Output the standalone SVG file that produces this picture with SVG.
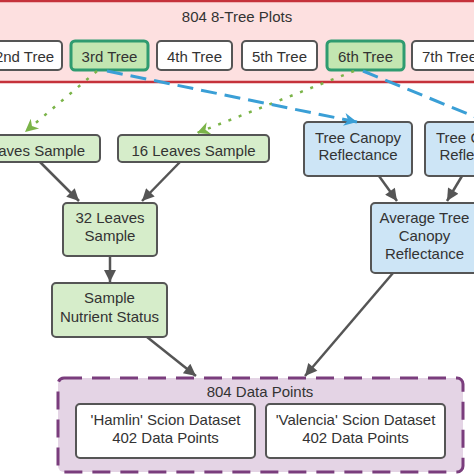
<svg xmlns="http://www.w3.org/2000/svg" width="474" height="474" viewBox="0 0 474 474">
<defs>
<style>
text{font-family:"Liberation Sans",Arial,sans-serif;font-size:15px;fill:#333;text-anchor:middle}
.box{stroke:#555;stroke-width:2}
.white{fill:#fff}
.green{fill:#d6edca}
.sel{fill:#c3e6b1;stroke:#2f9b70;stroke-width:3}
.blue{fill:#cde5f6}
.gray{fill:none;stroke:#555;stroke-width:2.5}
.dot{fill:none;stroke:#7bb449;stroke-width:2.5;stroke-dasharray:3 8}
.dash{fill:none;stroke:#3a9fd6;stroke-width:3;stroke-dasharray:16 8}
</style>
<marker id="agr" viewBox="0 0 10 10" refX="10" refY="5" markerWidth="14" markerHeight="12" orient="auto" markerUnits="userSpaceOnUse"><path d="M0,0 L10,5 L0,10 z" fill="#555"/></marker>
<marker id="agn" viewBox="0 0 10 10" refX="10" refY="5" markerWidth="15" markerHeight="13" orient="auto" markerUnits="userSpaceOnUse"><path d="M0,0 L10,5 L0,10 L3,5 z" fill="#7bb449"/></marker>
<marker id="abl" viewBox="0 0 10 10" refX="10" refY="5" markerWidth="15" markerHeight="13" orient="auto" markerUnits="userSpaceOnUse"><path d="M0,0 L10,5 L0,10 L3,5 z" fill="#3a9fd6"/></marker>
</defs>
<rect x="0" y="0" width="474" height="474" fill="#fff"/>
<g id="plots">
<rect x="-5" y="1" width="484" height="81" fill="#fde0e0" stroke="#c5323b" stroke-width="2.5"/>
<text x="237" y="22">804 8-Tree Plots</text>
</g>
<g id="tree2"><rect class="box white" x="-13" y="41" width="75" height="29" rx="4"/><text x="24.5" y="62">2nd Tree</text></g>
<g id="tree3"><rect class="sel" x="71" y="41" width="77" height="29" rx="4"/><text x="109.5" y="62">3rd Tree</text></g>
<g id="tree4"><rect class="box white" x="157" y="41" width="75" height="29" rx="4"/><text x="194.5" y="62">4th Tree</text></g>
<g id="tree5"><rect class="box white" x="242" y="41" width="75" height="29" rx="4"/><text x="279.5" y="62">5th Tree</text></g>
<g id="tree6"><rect class="sel" x="327" y="41" width="77" height="29" rx="4"/><text x="365.5" y="62">6th Tree</text></g>
<g id="tree7"><rect class="box white" x="412" y="41" width="75" height="29" rx="4"/><text x="449.5" y="62">7th Tree</text></g>

<g id="leaves8"><rect class="box green" x="-50" y="135" width="150" height="27" rx="4"/><text x="85" y="156" style="text-anchor:end">Leaves Sample</text></g>
<g id="leaves16"><rect class="box green" x="118" y="135" width="151" height="27" rx="4"/><text x="193.5" y="156">16 Leaves Sample</text></g>
<g id="leaves32"><rect class="box green" x="63" y="203" width="94" height="53" rx="4"/><text x="110" y="223">32 Leaves</text><text x="110" y="241">Sample</text></g>
<g id="nutrient"><rect class="box green" x="52" y="283" width="115" height="54" rx="4"/><text x="109.5" y="303">Sample</text><text x="109.5" y="322">Nutrient Status</text></g>

<g id="canopy1"><rect class="box blue" x="304" y="122" width="108" height="54" rx="4"/><text x="358" y="143">Tree Canopy</text><text x="358" y="160">Reflectance</text></g>
<g id="canopy2"><rect class="box blue" x="425" y="122" width="108" height="54" rx="4"/><text x="479" y="143">Tree Canopy</text><text x="479" y="160">Reflectance</text></g>
<g id="average"><rect class="box blue" x="371" y="203" width="107" height="70" rx="4"/><text x="424.5" y="223">Average Tree</text><text x="424.5" y="241">Canopy</text><text x="424.5" y="259">Reflectance</text></g>

<g id="datapoints">
<rect x="58" y="378" width="405" height="94" rx="6" fill="#e4d4e5" stroke="#7a3d7d" stroke-width="3" stroke-dasharray="18 10"/>
<text x="260" y="397">804 Data Points</text>
</g>
<g id="hamlin"><rect class="box white" x="76" y="404" width="179" height="54" rx="4"/><text x="165.5" y="425">'Hamlin' Scion Dataset</text><text x="165.5" y="443">402 Data Points</text></g>
<g id="valencia"><rect class="box white" x="266" y="404" width="179" height="54" rx="4"/><text x="355.5" y="425">'Valencia' Scion Dataset</text><text x="355.5" y="443">402 Data Points</text></g>

<g id="connectors">
<line class="dot" x1="97" y1="71" x2="25" y2="132" marker-end="url(#agn)"/>
<line class="dot" x1="354" y1="71" x2="197" y2="133" marker-end="url(#agn)"/>
<line class="dash" x1="107" y1="71" x2="357" y2="122" marker-end="url(#abl)"/>
<line class="dash" x1="363" y1="71" x2="495" y2="125" marker-end="url(#abl)"/>
<line class="gray" x1="40" y1="162" x2="79" y2="201" marker-end="url(#agr)"/>
<line class="gray" x1="180" y1="162" x2="142" y2="201" marker-end="url(#agr)"/>
<line class="gray" x1="110" y1="256" x2="110" y2="282" marker-end="url(#agr)"/>
<line class="gray" x1="147" y1="337" x2="196" y2="376" marker-end="url(#agr)"/>
<line class="gray" x1="379" y1="176" x2="397" y2="201" marker-end="url(#agr)"/>
<line class="gray" x1="462" y1="176" x2="447" y2="201" marker-end="url(#agr)"/>
<line class="gray" x1="393" y1="273" x2="305" y2="376" marker-end="url(#agr)"/>
</g>
</svg>
